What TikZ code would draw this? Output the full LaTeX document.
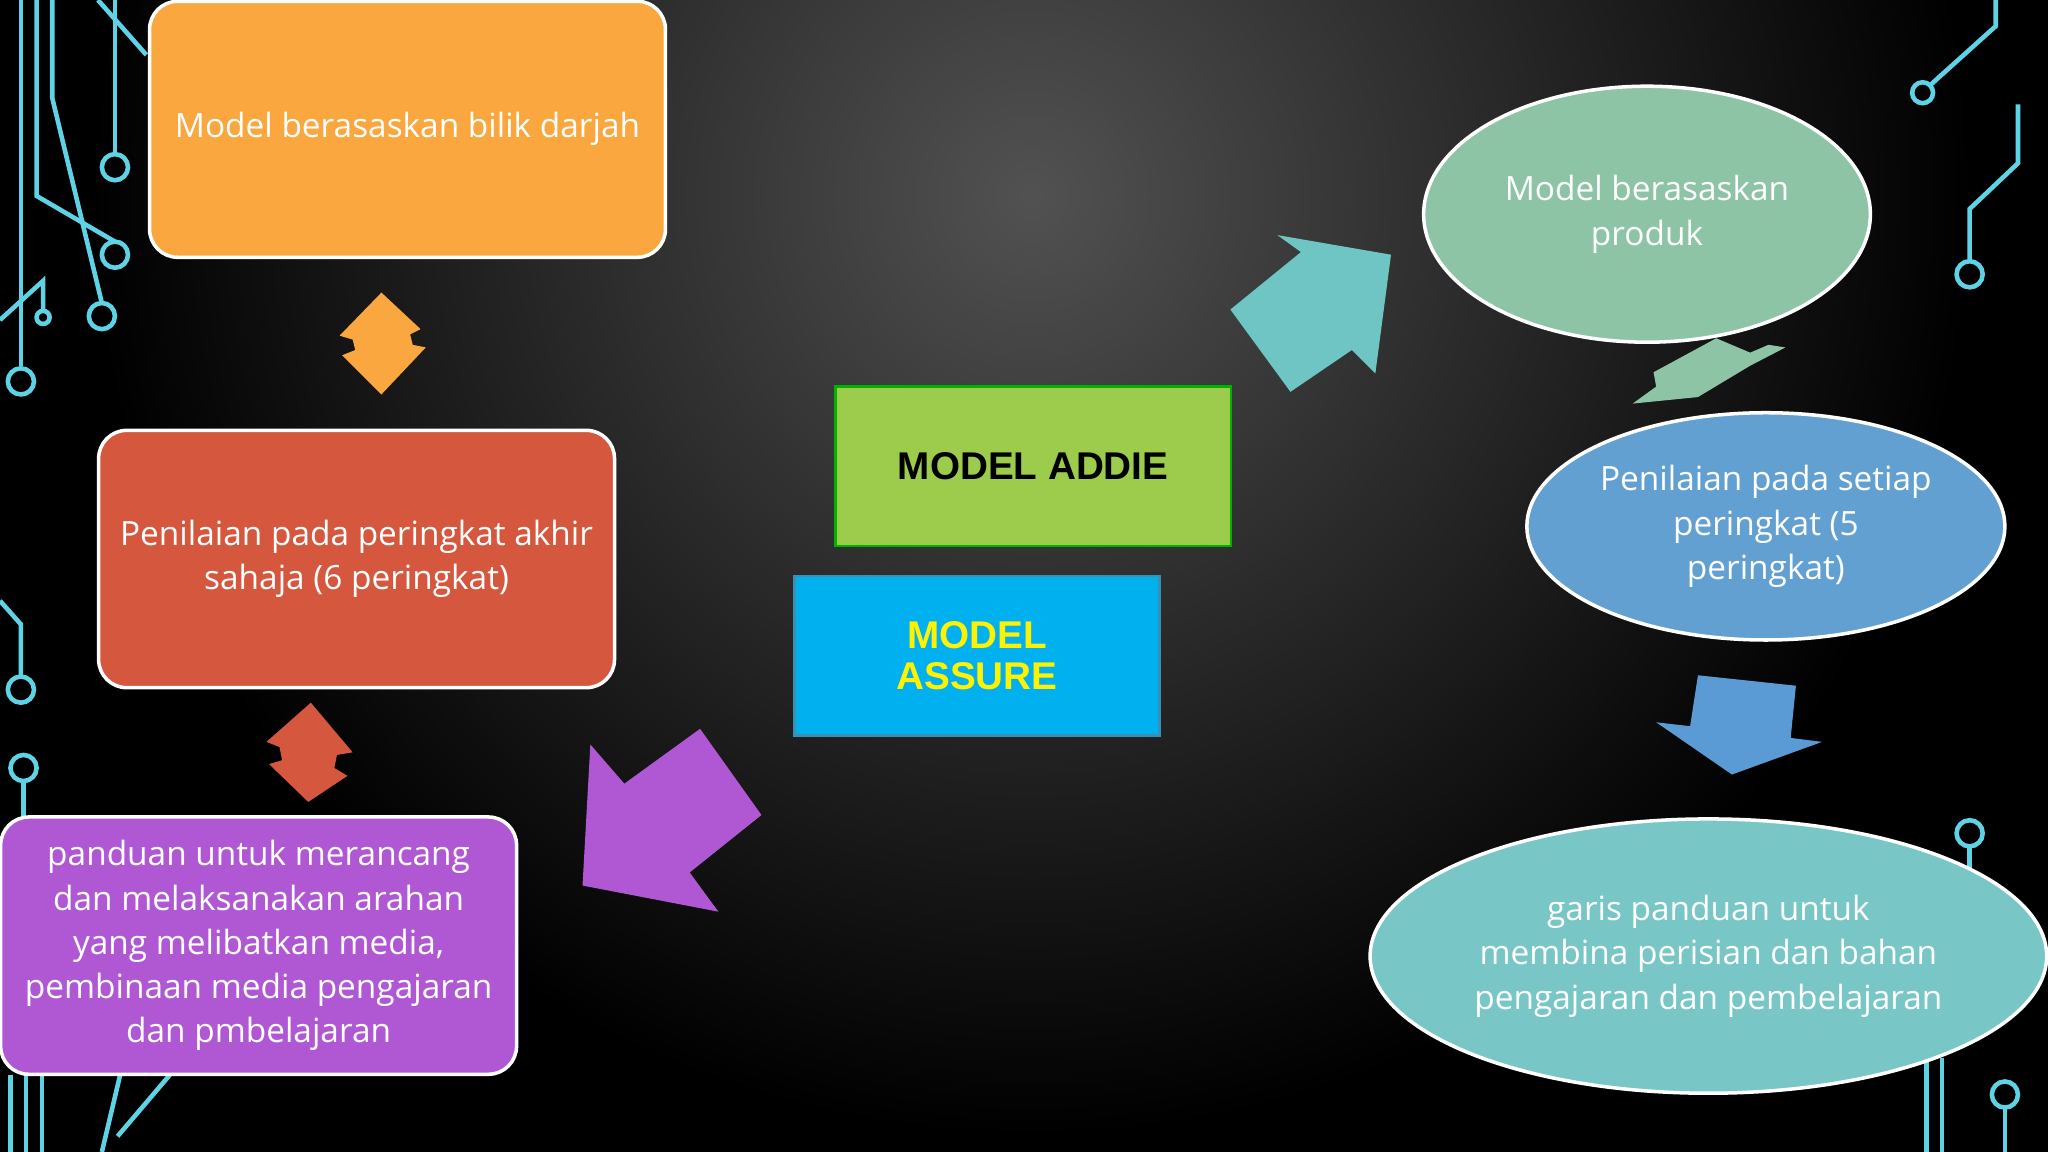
\documentclass[tikz,border=0pt]{standalone}
\usepackage{fontspec}
\usetikzlibrary{shapes.geometric}
\setmainfont{Open Sans}
\newfontfamily\blk{Liberation Sans}
\begin{document}
\begin{tikzpicture}[x=0.013061cm,y=-0.013061cm,
  box/.style={draw=white,line width=1pt,rounded corners=8pt,text=white,align=center,font=\fontsize{9.5}{12.6}\selectfont},
  ell/.style={ellipse,draw=white,line width=1pt,text=white,align=center,font=\fontsize{9.5}{12.6}\selectfont},
  tit/.style={draw=#1!70!black,line width=0.8pt,align=center,font=\blk\bfseries\fontsize{11}{11.5}\selectfont},
  circ/.style={draw=cyan!60!white,line width=1.2pt}]
\useasboundingbox (0,0) rectangle (1568,882);
\fill[black] (0,0) rectangle (1568,882);
\shade[inner color=black!68,outer color=black] (790,150) circle (720);
\definecolor{cyn}{HTML}{5FD3E6}
% circuit lines
\begin{scope}[draw=cyn,line width=1.3pt]
\draw (16,0)--(16,280); \draw (16,292) circle (10);
\draw (28,0)--(28,150)--(88,185); \draw (88,195) circle (10);
\draw (40,0)--(40,75)--(78,232); \draw (78,242) circle (10);
\draw (88,0)--(88,118); \draw (88,128) circle (10);
\draw (75,0)--(112,42);
\draw (0,245)--(33,215)--(33,238); \draw (33,243) circle (5);
\draw (0,460)--(16,478)--(16,518); \draw (16,528) circle (10);
\draw (18,598)--(18,625); \draw (18,588) circle (10);
\draw (8,823)--(8,882); \draw (20,823)--(20,882); \draw (32,823)--(32,882);
\draw (92,823)--(78,882); \draw (130,823)--(90,870);
\draw (1528,0)--(1528,20)--(1478,65); \draw (1472,71) circle (8);
\draw (1545,80)--(1545,125)--(1508,160)--(1508,200); \draw (1508,210) circle (10);
\draw (1508,648)--(1508,668); \draw (1508,638) circle (10);
\draw (1475,810)--(1475,882); \draw (1487,810)--(1487,882);
\draw (1535,848)--(1535,882); \draw (1535,838) circle (10);
\end{scope}
% boxes
\node[box,fill={rgb,255:red,249;green,167;blue,62},minimum width=395*0.013061cm,minimum height=196*0.013061cm] (a) at (312,99) {Model berasaskan bilik darjah};
\node[box,fill={rgb,255:red,212;green,87;blue,62},minimum width=395*0.013061cm,minimum height=197*0.013061cm] (b) at (273,428) {Penilaian pada peringkat akhir\\sahaja (6 peringkat)};
\node[box,fill={rgb,255:red,176;green,88;blue,212},minimum width=395*0.013061cm,minimum height=197*0.013061cm] (c) at (198,724) {panduan untuk merancang\\dan melaksanakan arahan\\yang melibatkan media,\\pembinaan media pengajaran\\dan pmbelajaran};
\node[tit=green,fill={rgb,255:red,157;green,203;blue,76},text=black,minimum width=303*0.013061cm,minimum height=122*0.013061cm] (d) at (791,357) {MODEL ADDIE};
\node[tit=cyan,fill={rgb,255:red,0;green,176;blue,239},text=yellow,minimum width=280*0.013061cm,minimum height=122*0.013061cm] (e) at (748,502) {MODEL\\ASSURE};
\node[ell,fill={rgb,255:red,141;green,196;blue,166},minimum width=342*0.013061cm,minimum height=196*0.013061cm,inner sep=0pt] (f) at (1261,164) {Model berasaskan\\produk};
\node[ell,fill={rgb,255:red,99;green,160;blue,210},minimum width=366*0.013061cm,minimum height=174*0.013061cm,inner sep=0pt] (g) at (1352,403) {Penilaian pada setiap\\peringkat (5\\peringkat)};
\node[ell,fill={rgb,255:red,120;green,198;blue,198},minimum width=518*0.013061cm,minimum height=210*0.013061cm,inner sep=0pt] (h) at (1308,732) {garis panduan untuk\\membina perisian dan bahan\\pengajaran dan pembelajaran};
% arrows
\fill[fill={rgb,255:red,249;green,167;blue,62}] (292,224)--(322,252)--(314,256)--(316,264)--(326,266)--(292,302)--(262,272)--(272,268)--(270,260)--(260,257)--cycle;
\fill[fill={rgb,255:red,212;green,87;blue,62}] (238,538)--(270,576)--(258,578)--(256,588)--(266,594)--(236,614)--(206,585)--(216,582)--(214,572)--(204,568)--cycle;
\fill[fill={rgb,255:red,176;green,88;blue,212}] (452,570)--(478,600)--(536,558)--(583,624)--(528,668)--(550,698)--(446,678)--cycle;
\fill[fill={rgb,255:red,111;green,196;blue,196}] (942,237)--(996,193)--(978,180)--(1065,195)--(1053,286)--(1035,268)--(988,300)--cycle;
\fill[fill={rgb,255:red,141;green,196;blue,166}] (1250,309)--(1268,296)--(1266,285)--(1314,259)--(1340,270)--(1354,264)--(1367,266)--(1340,280)--(1300,304)--cycle;
\fill[fill={rgb,255:red,91;green,155;blue,213}] (1300,517)--(1375,525)--(1371,565)--(1395,568)--(1326,593)--(1268,553)--(1294,556)--cycle;
\end{tikzpicture}
\end{document}
